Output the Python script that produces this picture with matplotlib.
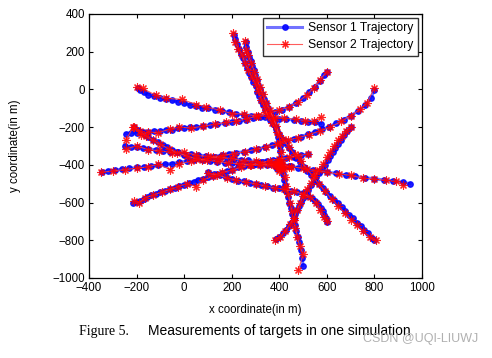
import matplotlib
matplotlib.use("Agg")
import matplotlib.pyplot as plt

# ---------------- data ----------------
# Track 1
t1_s1_x = [-195,-185,-170,-150,-125,-100,-75,-50,-25,0,25,50,75,100,130,160,190,220,250,280,310,340,370,400,430,460,490,520,550,575]
t1_s1_y = [5,-3,-15,-27,-33,-44,-50,-57,-66,-73,-81,-87,-96,-101,-107,-116,-121,-131,-134,-139,-141,-147,-149,-155,-157,-163,-165,-171,-174,-181]
t1_s2_x = [-200,-175,-120,-75,-10,50,90,150,200,250,300,340,380,420,470,510,545,575]
t1_s2_y = [12,5,-30,-48,-52,-80,-92,-110,-128,-130,-140,-120,-150,-152,-158,-165,-170,-148]

# Track 2
t2_s1_x = [-245,-225,-200,-175,-150,-125,-100,-75,-50,-25,0,25,50,80,110,140,170,200,230,260,290,320,350,380,410,440,470,500,525,550,570,590,600]
t2_s1_y = [-235,-231,-230,-227,-226,-221,-220,-215,-213,-207,-205,-201,-200,-194,-191,-184,-180,-173,-165,-161,-151,-145,-131,-121,-107,-93,-71,-46,-14,14,46,74,95]
t2_s2_x = [-245,-215,-180,-150,-110,-60,-20,30,80,130,175,220,265,310,355,400,440,480,515,545,570,600]
t2_s2_y = [-270,-200,-240,-225,-230,-210,-200,-205,-195,-185,-175,-168,-155,-140,-130,-108,-95,-65,-30,10,50,95]

# Track 3
t3_s1_x = [-345,-320,-290,-260,-230,-200,-170,-140,-110,-80,-50,-20,10,40,70,100,130,160,190,220,250,280,310,340,370,400,430,460,490,520,550,580,610,640,670,700,730,760,785,800]
t3_s1_y = [-440,-431,-429,-423,-419,-414,-413,-407,-403,-396,-393,-385,-381,-373,-369,-361,-356,-347,-343,-335,-331,-323,-316,-305,-297,-285,-275,-261,-251,-237,-227,-211,-197,-179,-161,-139,-116,-84,-46,-5]
t3_s2_x = [-350,-300,-250,-200,-150,-110,-60,-20,30,75,120,165,210,255,300,345,390,435,480,525,570,615,660,700,740,770,800]
t3_s2_y = [-440,-432,-425,-418,-410,-395,-425,-395,-380,-372,-360,-350,-340,-330,-318,-305,-290,-270,-255,-240,-220,-200,-170,-140,-105,-70,10]

# Track 4
t4_s1_x = [-250,-225,-200,-175,-150,-120,-90,-60,-30,0,30,60,90,120,150,180,210,240,270,300,330,360,390,420,450,480,510,540,570,600,640,680,720,760,800,840,880,920,950]
t4_s1_y = [-300,-303,-304,-311,-314,-321,-324,-331,-334,-341,-343,-349,-351,-357,-359,-365,-367,-373,-376,-383,-386,-393,-397,-404,-407,-415,-419,-427,-431,-439,-445,-455,-461,-469,-473,-481,-485,-493,-500]
t4_s2_x = [-245,-200,-150,-105,-50,0,50,100,150,200,250,300,350,400,450,500,550,600,650,700,750,800,850,890,920]
t4_s2_y = [-315,-300,-320,-325,-335,-330,-350,-355,-362,-366,-378,-380,-395,-400,-410,-418,-430,-440,-448,-456,-470,-476,-482,-488,-505]

# Track 5
t5_s1_x = [210,215,222,230,238,246,255,264,273,282,291,300,308,316,324,332,340,350,360,372,385,398,412,426,440,455,470,486,502,518,534,550,566,582,598,614,630,646,662,678,694,710,726,742,758,774,790,800]
t5_s1_y = [290,266,239,216,189,166,139,116,89,66,39,16,-11,-34,-61,-84,-111,-134,-161,-184,-211,-234,-261,-284,-311,-334,-361,-384,-411,-431,-456,-477,-501,-522,-546,-564,-586,-604,-626,-644,-666,-684,-706,-724,-746,-764,-786,-800]
t5_s2_x = [205,215,228,245,255,270,285,300,312,325,338,352,370,392,415,440,465,490,515,540,565,592,620,648,675,700,725,752,780,805]
t5_s2_y = [300,250,215,180,140,105,65,30,-10,-55,-95,-140,-180,-225,-265,-305,-345,-380,-420,-460,-500,-540,-580,-620,-655,-690,-720,-750,-785,-800]

# Track 6
t6_s1_x = [258,262,268,274,280,286,292,298,305,312,320,328,336,345,354,362,370,378,385,391,396,400,403,405,407,409,412,416,420,425,430,436,442,448,454,460,466,472,478,484,490,496,500]
t6_s1_y = [250,224,201,174,151,124,101,74,51,24,1,-24,-51,-74,-101,-124,-151,-174,-201,-224,-251,-274,-301,-329,-361,-389,-421,-449,-481,-509,-541,-569,-601,-629,-661,-689,-721,-749,-781,-809,-851,-894,-935]
t6_s2_x = [255,262,270,282,295,305,318,330,345,360,375,388,398,405,408,412,418,425,430,438,445,452,460,468,476,485,500,480]
t6_s2_y = [255,210,180,140,95,55,15,-25,-70,-110,-150,-195,-240,-285,-330,-375,-420,-465,-510,-555,-600,-645,-690,-735,-780,-830,-875,-960]

# Track 7
t7_s1_x = [385,400,415,428,440,450,460,468,476,484,492,500,510,520,532,544,556,568,580,592,604,614,624,634,645,658,672,686,700]
t7_s1_y = [-795,-781,-764,-746,-724,-706,-684,-663,-639,-619,-595,-575,-551,-531,-507,-487,-463,-443,-419,-399,-375,-355,-331,-311,-287,-267,-243,-223,-200]
t7_s2_x = [380,405,425,445,462,475,488,500,515,532,550,568,585,600,615,630,645,662,680,700]
t7_s2_y = [-800,-780,-750,-715,-680,-640,-600,-565,-530,-495,-460,-425,-395,-360,-330,-300,-270,-245,-220,-200]

# Track 8
t8_s1_x = [-215,-200,-185,-170,-155,-140,-120,-100,-80,-60,-40,-20,0,20,40,60,80,100,120,140,160,180,200,225,250,275,300,325,350,375,400,430,460,490,520]
t8_s1_y = [-603,-599,-591,-579,-571,-561,-554,-544,-537,-527,-521,-511,-505,-495,-489,-479,-473,-463,-457,-447,-441,-431,-425,-414,-408,-399,-394,-385,-381,-373,-369,-361,-357,-349,-345]
t8_s2_x = [-210,-190,-165,-130,-95,-60,-25,10,50,80,120,160,200,240,280,320,360,400,440,480,520]
t8_s2_y = [-590,-600,-575,-560,-545,-530,-515,-500,-515,-480,-460,-440,-428,-412,-400,-390,-378,-368,-360,-352,-342]

# Track 9
t9_s1_x = [100,125,150,175,200,225,250,275,300,325,350,375,400,425,450,475,500,520,538,552,564,574,582,590,596,600]
t9_s1_y = [-440,-449,-455,-466,-473,-483,-488,-497,-501,-509,-513,-521,-525,-533,-537,-545,-551,-563,-575,-593,-609,-629,-645,-666,-684,-705]
t9_s2_x = [100,140,180,220,260,300,340,380,420,460,500,530,555,572,586,600]
t9_s2_y = [-445,-452,-470,-480,-492,-500,-512,-522,-530,-540,-555,-570,-600,-640,-675,-700]

# Track 10
t10_s1_x = [-210,-195,-180,-165,-150,-130,-110,-90,-70,-50,-25,0,25,50,80,110,140,170,200,230,260,290,320,350,380,410,440]
t10_s1_y = [-200,-214,-226,-240,-252,-266,-280,-294,-306,-320,-334,-346,-356,-366,-374,-380,-385,-389,-392,-395,-397,-399,-401,-403,-405,-406,-408]
t10_s2_x = [-210,-185,-160,-130,-100,-65,-30,10,50,95,140,185,230,275,320,365,410,440]
t10_s2_y = [-200,-222,-247,-270,-292,-315,-335,-352,-368,-376,-382,-390,-394,-400,-402,-398,-404,-410]

# Track 11 (slow target near the centre)
t11_s1_x = [385,392,398,404,410,402,395,390]
t11_s1_y = [-395,-400,-406,-402,-409,-413,-399,-420]
t11_s2_x = [380,390,400,412,405,395,410,388,398]
t11_s2_y = [-400,-390,-410,-398,-420,-385,-415,-405,-430]

tracks_s1 = [(t1_s1_x, t1_s1_y), (t2_s1_x, t2_s1_y), (t3_s1_x, t3_s1_y), (t4_s1_x, t4_s1_y),
             (t5_s1_x, t5_s1_y), (t6_s1_x, t6_s1_y), (t7_s1_x, t7_s1_y), (t8_s1_x, t8_s1_y),
             (t9_s1_x, t9_s1_y), (t10_s1_x, t10_s1_y), (t11_s1_x, t11_s1_y)]
tracks_s2 = [(t1_s2_x, t1_s2_y), (t2_s2_x, t2_s2_y), (t3_s2_x, t3_s2_y), (t4_s2_x, t4_s2_y),
             (t5_s2_x, t5_s2_y), (t6_s2_x, t6_s2_y), (t7_s2_x, t7_s2_y), (t8_s2_x, t8_s2_y),
             (t9_s2_x, t9_s2_y), (t10_s2_x, t10_s2_y), (t11_s2_x, t11_s2_y)]

x_ticks = [-400, -200, 0, 200, 400, 600, 800, 1000]
y_ticks = [400, 200, 0, -200, -400, -600, -800, -1000]
legend_labels = ["Sensor 1 Trajectory", "Sensor 2 Trajectory"]

# ---------------- figure ----------------
plt.rcParams['font.family'] = ['Liberation Sans', 'DejaVu Sans']
fig = plt.figure(figsize=(4.92, 3.58), dpi=100)
ax = fig.add_axes([89/492, 1-278/358, 333/492, 264/358])

for i, (xs, ys) in enumerate(tracks_s1):
    ax.plot(xs, ys, color=(0.35, 0.35, 1.0), alpha=0.85, lw=2.2,
            marker='o', ms=3.9, mfc='#0000ff', mec='#0000ff',
            label=legend_labels[0] if i == 0 else None, zorder=2)
for i, (xs, ys) in enumerate(tracks_s2):
    ax.plot(xs, ys, color=(1.0, 0.25, 0.25), alpha=0.85, lw=0.8,
            marker=(8, 2, 0), ms=5.8, mfc='#ff0000', mec='#ff0000', mew=0.8,
            label=legend_labels[1] if i == 0 else None, zorder=3)

ax.set_xlim(-400, 1000)
ax.set_ylim(-1000, 400)
ax.set_xticks(x_ticks)
ax.set_yticks(y_ticks)
ax.tick_params(direction='in', top=True, right=True, labelsize=8.3, length=3, width=0.8, pad=3)
for s in ax.spines.values():
    s.set_linewidth(0.9)
ax.set_xlabel("x coordinate(in m)", fontsize=8.3)
ax.set_ylabel("y coordinate(in m)", fontsize=8.3)
ax.xaxis.set_label_coords(0.5, (278 - 304) / 264)
ax.yaxis.set_label_coords((21 - 89) / 333, 0.5)

leg = ax.legend(loc='upper right', fontsize=8.7, frameon=True, fancybox=False,
                edgecolor='black', borderaxespad=0.35, handlelength=2.9,
                borderpad=0.35, labelspacing=0.4, handletextpad=0.5)
leg.get_frame().set_linewidth(1.0)

fig.text(79/492, 1-331/358, "Figure 5.", fontsize=10, family='Liberation Serif', va='center', ha='left')
fig.text(148/492, 1-331/358, "Measurements of targets in one simulation", fontsize=10, va='center', ha='left')
fig.text(478/492, 1-339/358, "CSDN @UQI-LIUWJ", fontsize=9, color='#b0b0b0', va='center', ha='right')

fig.savefig("out.png", dpi=100)
